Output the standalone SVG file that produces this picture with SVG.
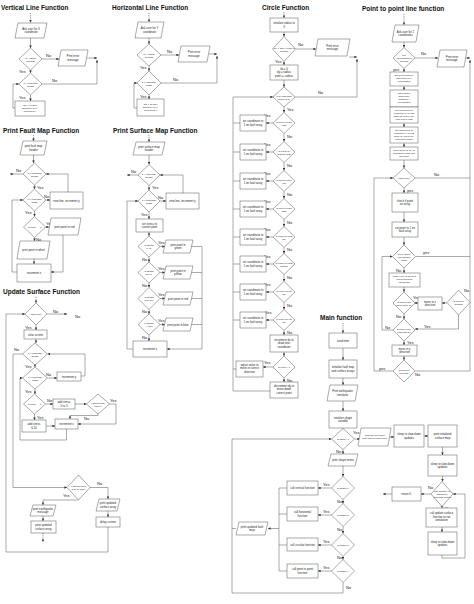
<svg xmlns="http://www.w3.org/2000/svg" width="474" height="604" viewBox="0 0 474 604">
<style>
.n{fill:#fff;stroke:#555;stroke-width:0.5}
.c{fill:none;stroke:#555;stroke-width:0.5}
.s{fill:none;stroke:#444;stroke-width:0.6;stroke-dasharray:1 0.8}
text{font-family:"Liberation Sans",Arial,sans-serif;fill:#222}
.t{font-size:2.8px;text-anchor:middle}
.u{font-size:2.5px;text-anchor:middle}
.l{font-size:4px}
.h{font-size:6.5px;font-weight:bold;fill:#111}
</style>
<defs>
<marker id="a" viewBox="0 0 6 6" refX="6" refY="3" markerWidth="2.6" markerHeight="2.6" markerUnits="userSpaceOnUse" orient="auto"><path d="M0,0L6,3L0,6z" fill="#333"/></marker>
</defs>
<rect width="474" height="604" fill="#fff"/>
<g id="titles">
<text class="h" x="1" y="10">Vertical Line Function</text>
<text class="h" x="112" y="10">Horizontal Line Function</text>
<text class="h" x="262" y="10">Circle Function</text>
<text class="h" x="362" y="11">Point to point line function</text>
<text class="h" x="3" y="133">Print Fault Map Function</text>
<text class="h" x="113" y="133">Print Surface Map Function</text>
<text class="h" x="3" y="294">Update Surface Function</text>
<text class="h" x="320" y="320">Main function</text>
</g>
<g id="connectors" class="c" marker-end="url(#a)">
<!-- vertical -->
<path class="s" d="M30.5,13V22.5"/>
<path d="M30.5,38V48"/>
<path d="M42,59H59"/>
<path d="M87,58H97"/>
<path d="M42,84H97V60"/>
<path d="M30.5,70V73"/>
<path d="M30.5,95V101"/>
<path d="M15,108H13V84H19"/>
<!-- horizontal -->
<path class="s" d="M149,13V22"/>
<path d="M149,38V44"/>
<path d="M161,55H179"/>
<path d="M209,54H217"/>
<path d="M161,83H217V56"/>
<path d="M149,66V71"/>
<path d="M149,95V99"/>
<path d="M137,108H134V83H137"/>
<!-- print fault -->
<path class="s" d="M33.5,135V141"/>
<path d="M33.5,155V163"/>
<path d="M23,174H10"/>
<path d="M34.5,185V189"/>
<path d="M46,200H50"/>
<path d="M68,192V174H46"/>
<path d="M34.5,211V216.5"/>
<path d="M45.5,227H49"/>
<path d="M34.5,237.5V241"/>
<path d="M63,235V272H51"/>
<path d="M34,259V264"/>
<path d="M17,272H12V200H23"/>
<!-- print surface -->
<path class="s" d="M149,135V142"/>
<path d="M149,155V164.5"/>
<path d="M138,175H127"/>
<path d="M149,185.5V190"/>
<path d="M160,201H166"/>
<path d="M183,193V175H160"/>
<path d="M149,212V219"/>
<path d="M149,232V236"/>
<path d="M160,246.5H165"/>
<path d="M160,272.5H165"/>
<path d="M160,298.5H165"/>
<path d="M160,324.5H165"/>
<path d="M149,257V262"/>
<path d="M149,283V287.5"/>
<path d="M149,309.5V314"/>
<path d="M149,335V341"/>
<path d="M191,246.5H202V349H167" />
<path d="M191,272.5H202" marker-end="none"/>
<path d="M191,298.5H202" marker-end="none"/>
<path d="M191,324.5H202" marker-end="none"/>
<path d="M133,349H127V201H138"/>
<!-- update surface -->
<path class="s" d="M36,297V303"/>
<path d="M47,314H67"/>
<path d="M36,325V330"/>
<path d="M36,339V343"/>
<path d="M22.5,354H13V487.5H67"/>
<path d="M35,365V367"/>
<path d="M47.5,378H57"/>
<path d="M81,376H85V354H47.5"/>
<path d="M35,389V394"/>
<path d="M45.5,404H53"/>
<path d="M75,404H86.5"/>
<path d="M98,414V415.5H70V419"/>
<path d="M109.5,404H116V424H78"/>
<path d="M34.5,414V420"/>
<path d="M46,426H55"/>
<path d="M66.5,429V440H20V378H22.5"/>
<path d="M90,487.5H108V499"/>
<path d="M108,511V517"/>
<path d="M108,527V552H6V314H25"/>
<path d="M78.5,500H43V505"/>
<path d="M43,516V521"/>
<path class="s" d="M43,533V542"/>
<!-- circle -->
<path class="s" d="M284,12V18"/>
<path d="M284,32V36.5"/>
<path d="M295.5,49H316"/>
<path d="M349,57H357"/>
<path d="M295,97H357V59"/>
<path d="M284,61.5V65"/>
<path d="M284,80V87"/>
<path d="M284,107V112.5"/>
<path d="M273,123H266"/>
<path d="M273,152H266"/>
<path d="M273,181H266"/>
<path d="M273,209H266"/>
<path d="M273,237H266"/>
<path d="M273,264H266"/>
<path d="M273,292H266"/>
<path d="M273,320H266"/>
<path d="M284,133.5V141.5"/>
<path d="M284,162.5V170.5"/>
<path d="M284,191.5V198.5"/>
<path d="M284,219.5V226.5"/>
<path d="M284,247.5V253.5"/>
<path d="M284,274.5V281.5"/>
<path d="M284,302.5V309.5"/>
<path d="M284,330.5V335"/>
<path d="M284,352V356"/>
<path d="M273,367H263"/>
<path d="M284,378V382"/>
<path d="M240,123H233M240,152H233M240,181H233M240,209H233M240,237H233M240,264H233M240,292H233M240,320H233M236,369H233" marker-end="none"/>
<path d="M270,391H233V97H273"/>
<!-- point to point -->
<path class="s" d="M404,14V25"/>
<path d="M404,42V47.5"/>
<path d="M415,58H438"/>
<path d="M465,58H470"/>
<path d="M404,68.5V72"/>
<path d="M404,86V90"/>
<path d="M404,123V127"/>
<path d="M404,143V147"/>
<path d="M404,160V168"/>
<path d="M415,178H470" marker-end="none"/>
<path d="M404,188V193"/>
<path d="M404,212V222"/>
<path d="M404,237V245"/>
<path d="M415.5,256.5H470" marker-end="none"/>
<path d="M404,268V273"/>
<path d="M404,287V292"/>
<path d="M415,303H418"/>
<path d="M447,303H442"/>
<path d="M458.5,315V329H415"/>
<path d="M404,314V319"/>
<path d="M393,330H382V256.5H392.5"/>
<path d="M404,341V345"/>
<path d="M404,356V360"/>
<path d="M393,371H374V178H393"/>
<path d="M415,371H470V60"/>
<!-- main -->
<path class="s" d="M343,323V333"/>
<path d="M343,348V360"/>
<path d="M343,378V385"/>
<path d="M343,401V411"/>
<path d="M343,428V428.5"/>
<path d="M354.5,439H360"/>
<path d="M388,437H394"/>
<path d="M424,436H428"/>
<path d="M442.5,447V455"/>
<path d="M442.5,476V481.5"/>
<path d="M431,494H421"/>
<path d="M392,494H383"/>
<path d="M442,506.5V508"/>
<path d="M442,527V532"/>
<path d="M442,555V558H465V494H453"/>
<path d="M343,449.5V454"/>
<path d="M343,466V476.5"/>
<path d="M331.5,488H318"/>
<path d="M331.5,515H318"/>
<path d="M331.5,545H318"/>
<path d="M331.5,571H318"/>
<path d="M343,499.5V503.5"/>
<path d="M343,526.5V533.5"/>
<path d="M343,556.5V559.5"/>
<path d="M343,582.5V593H232V439H331.5"/>
<path d="M287,488H279V571H287M287,514H279M287,545H279M236,528.5H232" marker-end="none"/>
<path d="M279,528.5H268"/>
</g>
<g id="labels" class="l">
<text class="l" x="46" y="57">No</text><text class="l" x="19" y="73">Yes</text><text class="l" x="52" y="82">No</text><text class="l" x="19" y="99">Yes</text>
<text class="l" x="167" y="53">No</text><text class="l" x="140" y="69">Yes</text><text class="l" x="173" y="81">No</text><text class="l" x="140" y="98">Yes</text>
<text class="l" x="16" y="172">No</text><text class="l" x="37" y="189">Yes</text><text class="l" x="44" y="198">No</text><text class="l" x="25" y="214">Yes</text><text class="l" x="46" y="225">Yes</text><text class="l" x="36" y="241">No</text>
<text class="l" x="131" y="173">No</text><text class="l" x="152" y="189">Yes</text><text class="l" x="158" y="199">No</text><text class="l" x="141" y="216">Yes</text>
<text class="l" x="158" y="244">Yes</text><text class="l" x="158" y="270">Yes</text><text class="l" x="158" y="296">Yes</text><text class="l" x="158" y="322">Yes</text>
<text class="l" x="142" y="261">No</text><text class="l" x="142" y="287">No</text><text class="l" x="142" y="313">No</text><text class="l" x="142" y="339">No</text>
<text class="l" x="53" y="313">No</text><text class="l" x="75" y="318">No</text><text class="l" x="25" y="329">Yes</text><text class="l" x="14" y="351">No</text><text class="l" x="25" y="368">Yes</text><text class="l" x="46" y="376">No</text><text class="l" x="25" y="393">Yes</text><text class="l" x="47" y="402">No</text><text class="l" x="110" y="402">Yes</text><text class="l" x="84" y="420">No</text><text class="l" x="37" y="419">Yes</text><text class="l" x="97" y="485">No</text><text class="l" x="63" y="497">Yes</text>
<text class="l" x="298" y="46">No</text><text class="l" x="275" y="63">Yes</text><text class="l" x="318" y="94">No</text><text class="l" x="287" y="111">Yes</text>
<text class="l" x="264" y="117">Yes</text><text class="l" x="264" y="146">Yes</text><text class="l" x="264" y="175">Yes</text><text class="l" x="264" y="203">Yes</text><text class="l" x="264" y="231">Yes</text><text class="l" x="264" y="258">Yes</text><text class="l" x="264" y="286">Yes</text><text class="l" x="265" y="314">Yes</text><text class="l" x="264" y="364">Yes</text>
<text class="l" x="287" y="138">No</text><text class="l" x="287" y="167">No</text><text class="l" x="287" y="196">No</text><text class="l" x="287" y="224">No</text><text class="l" x="287" y="251">No</text><text class="l" x="287" y="279">No</text><text class="l" x="287" y="307">No</text><text class="l" x="287" y="334">No</text><text class="l" x="287" y="382">No</text>
<text class="l" x="421" y="55">No</text><text class="l" x="393" y="71">yes</text><text class="l" x="434" y="176">No</text><text class="l" x="407" y="192">yes</text><text class="l" x="423" y="254">yes</text><text class="l" x="396" y="272">No</text><text class="l" x="413" y="299">Yes</text><text class="l" x="464" y="292">No</text><text class="l" x="424" y="328">Yes</text><text class="l" x="396" y="318">No</text><text class="l" x="385" y="329">No</text><text class="l" x="407" y="344">Yes</text><text class="l" x="379" y="370">yes</text><text class="l" x="415" y="376">No</text>
<text class="l" x="353" y="434">Yes</text><text class="l" x="336" y="453">No</text><text class="l" x="428" y="489">No</text><text class="l" x="445" y="510">Yes</text>
<text class="l" x="323" y="486">Yes</text><text class="l" x="323" y="513">Yes</text><text class="l" x="323" y="543">Yes</text><text class="l" x="323" y="569">Yes</text>
<text class="l" x="337" y="503">No</text><text class="l" x="337" y="531">No</text><text class="l" x="337" y="559">No</text><text class="l" x="346" y="589">No</text>
</g>
<!-- Vertical line function -->
<g id="vl_ask"><polygon class="n" points="18,23 47,23 44,38 15,38"/><text class="t" x="31" y="29.9">Ask user for X</text><text class="t" x="31" y="33.3">coordinate</text></g>
<g id="vl_d1"><polygon class="n" points="30.5,48 42,59 30.5,70 19,59"/><text class="u" x="30.5" y="58.5">Is X within</text><text class="u" x="30.5" y="61.5">bounds</text></g>
<g id="vl_err"><polygon class="n" points="61,50 88,50 85,66 58,66"/><text class="t" x="73" y="57.4">Print error</text><text class="t" x="73" y="60.8">message</text></g>
<g id="vl_d2"><polygon class="n" points="30.5,73 42,84 30.5,95 19,84"/><text class="u" x="30.5" y="83.5">if y less than</text><text class="u" x="30.5" y="86.5">height</text></g>
<g id="vl_set"><rect class="n" x="15" y="101" width="30" height="15"/><text class="u" x="30" y="105.8">set y at user</text><text class="u" x="30" y="108.9">defined x to 1,</text><text class="u" x="30" y="112">increment y</text></g>
<!-- Horizontal line function -->
<g id="hl_ask"><polygon class="n" points="138,22 164,22 161,38 135,38"/><text class="t" x="149.5" y="29.4">Ask user for Y</text><text class="t" x="149.5" y="32.8">coordinate</text></g>
<g id="hl_d1"><polygon class="n" points="149,44 161,55 149,66 137,55"/><text class="u" x="149" y="54.5">Is Y within</text><text class="u" x="149" y="57.5">bounds</text></g>
<g id="hl_err"><polygon class="n" points="181,46 210,46 207,62 178,62"/><text class="t" x="194" y="53.4">Print error</text><text class="t" x="194" y="56.8">message</text></g>
<g id="hl_d2"><polygon class="n" points="149,71 161,83 149,95 137,83"/><text class="u" x="149" y="82.5">if x less than</text><text class="u" x="149" y="85.5">width</text></g>
<g id="hl_set"><rect class="n" x="137" y="99" width="27" height="17"/><text class="u" x="150.5" y="104.5">set x at user</text><text class="u" x="150.5" y="107.6">defined y to 1,</text><text class="u" x="150.5" y="110.7">increment x</text></g>
<!-- Print fault map -->
<g id="pf_hdr"><polygon class="n" points="23,141 47,141 44,155 20,155"/><text class="t" x="33.5" y="147.4">print fault map</text><text class="t" x="33.5" y="150.8">header</text></g>
<g id="pf_d1"><polygon class="n" points="34.5,163 46,174 34.5,185 23,174"/><text class="u" x="34.5" y="173.5">if y less than</text><text class="u" x="34.5" y="176.5">height</text></g>
<g id="pf_d2"><polygon class="n" points="34.5,189 46,200 34.5,211 23,200"/><text class="u" x="34.5" y="199.5">if x less than</text><text class="u" x="34.5" y="202.5">width</text></g>
<g id="pf_nl"><rect class="n" x="50" y="192" width="33" height="17"/><text class="t" x="66.5" y="201.6">new line, increment y</text></g>
<g id="pf_d3"><polygon class="n" points="34.5,216.5 45.5,227 34.5,237.5 23.5,227"/><text class="u" x="34.5" y="228">is point == 1</text></g>
<g id="pf_red"><polygon class="n" points="51,218 81,218 78,235 48,235"/><text class="t" x="64.5" y="227.5">print point in red</text></g>
<g id="pf_white"><polygon class="n" points="20,241 50,241 47,259 17,259"/><text class="t" x="33.5" y="251">print point in white</text></g>
<g id="pf_inc"><rect class="n" x="17" y="264" width="34" height="18"/><text class="t" x="34" y="274">increment x</text></g>
<!-- Print surface map -->
<g id="ps_hdr"><polygon class="n" points="136,142 165,142 162,155 133,155"/><text class="t" x="149" y="147.9">print surface map</text><text class="t" x="149" y="151.3">header</text></g>
<g id="ps_d1"><polygon class="n" points="149,164.5 160,175 149,185.5 138,175"/><text class="u" x="149" y="174.5">if y less than</text><text class="u" x="149" y="177.5">height</text></g>
<g id="ps_d2"><polygon class="n" points="149,190 160,201 149,212 138,201"/><text class="u" x="149" y="200.5">if x less than</text><text class="u" x="149" y="203.5">width</text></g>
<g id="ps_nl"><rect class="n" x="166" y="193" width="33" height="16"/><text class="t" x="182.5" y="202">new line, increment y</text></g>
<g id="ps_set"><rect class="n" x="136" y="219" width="27" height="13"/><text class="t" x="149.5" y="225">set stress to</text><text class="t" x="149.5" y="228.4">current point</text></g>
<g id="ps_s1"><polygon class="n" points="149,236 160,246.5 149,257 138,246.5"/><text class="u" x="149" y="246">is stress</text><text class="u" x="149" y="249">0-49</text></g>
<g id="ps_green"><polygon class="n" points="166,240 193,240 190,253 163,253"/><text class="t" x="178" y="245.9">print point in</text><text class="t" x="178" y="249.3">green</text></g>
<g id="ps_s2"><polygon class="n" points="149,262 160,272.5 149,283 138,272.5"/><text class="u" x="149" y="272">is stress</text><text class="u" x="149" y="275">50-99</text></g>
<g id="ps_yellow"><polygon class="n" points="166,266 193,266 190,279 163,279"/><text class="t" x="178" y="271.9">print point in</text><text class="t" x="178" y="275.3">yellow</text></g>
<g id="ps_s3"><polygon class="n" points="149,287.5 160,298.5 149,309.5 138,298.5"/><text class="u" x="149" y="298">is stress</text><text class="u" x="149" y="301">100-199</text></g>
<g id="ps_red"><polygon class="n" points="166,292 193,292 190,305 163,305"/><text class="t" x="178" y="299.6">print point in red</text></g>
<g id="ps_s4"><polygon class="n" points="149,314 160,324.5 149,335 138,324.5"/><text class="u" x="149" y="324">is stress</text><text class="u" x="149" y="327">&gt;=200</text></g>
<g id="ps_blue"><polygon class="n" points="166,318 193,318 190,331 163,331"/><text class="t" x="178" y="325.6">print point in blue</text></g>
<g id="ps_inc"><rect class="n" x="133" y="341" width="34" height="16"/><text class="t" x="150" y="350">increment x</text></g>
<!-- Update surface -->
<g id="us_while"><polygon class="n" points="36,303 47,314 36,325 25,314"/><text class="u" x="36" y="315">while true</text></g>
<g id="us_clear"><rect class="n" x="24" y="330" width="23" height="9"/><text class="t" x="35.5" y="335.5">clear screen</text></g>
<g id="us_d1"><polygon class="n" points="35,343 47.5,354 35,365 22.5,354"/><text class="u" x="35" y="353.5">if y less than</text><text class="u" x="35" y="356.5">height</text></g>
<g id="us_d2"><polygon class="n" points="35,367 47.5,378 35,389 22.5,378"/><text class="u" x="35" y="377.5">if x less than</text><text class="u" x="35" y="380.5">width</text></g>
<g id="us_incy"><rect class="n" x="57" y="372" width="24" height="9"/><text class="t" x="69" y="377.5">increment y</text></g>
<g id="us_d3"><polygon class="n" points="34.5,394 45.5,404 34.5,414 23.5,404"/><text class="u" x="34.5" y="405">is point == 1</text></g>
<g id="us_add03"><rect class="n" x="53" y="399" width="22" height="10"/><text class="t" x="64" y="403.4">add stress</text><text class="t" x="64" y="406.8">0 to 3</text></g>
<g id="us_d4"><polygon class="n" points="98,394 109.5,404 98,414 86.5,404"/><text class="u" x="98" y="403.5">if stress less</text><text class="u" x="98" y="406.5">than 0</text></g>
<g id="us_add010"><rect class="n" x="22" y="420" width="24" height="12"/><text class="t" x="34" y="425.4">add stress</text><text class="t" x="34" y="428.8">0-10</text></g>
<g id="us_incx"><rect class="n" x="55" y="419" width="23" height="10"/><text class="t" x="66.5" y="425">increment x</text></g>
<g id="us_d5"><polygon class="n" points="78.5,475 90,487.5 78.5,500 67,487.5"/><text class="u" x="78.5" y="487">if stress point</text><text class="u" x="78.5" y="490">100 or more</text></g>
<g id="us_pus"><polygon class="n" points="99,499 120,499 117,511 96,511"/><text class="t" x="108" y="504.4">print updated</text><text class="t" x="108" y="507.8">surface array</text></g>
<g id="us_delay"><rect class="n" x="96" y="517" width="24" height="10"/><text class="t" x="108" y="523">delay screen</text></g>
<g id="us_peq"><polygon class="n" points="33,505 56,505 53,516 30,516"/><text class="t" x="43" y="509.9">print earthquake</text><text class="t" x="43" y="513.3">message</text></g>
<g id="us_pus2"><rect class="n" x="31" y="521" width="25" height="12"/><text class="t" x="43.5" y="526.4">print updated</text><text class="t" x="43.5" y="529.8">surface array</text></g>
<!-- Circle function -->
<g id="cf_init"><rect class="n" x="270" y="18" width="28" height="14"/><text class="t" x="284" y="24.4">initialize radius to</text><text class="t" x="284" y="27.8">3</text></g>
<g id="cf_d1"><polygon class="n" points="284,36.5 295.5,49 284,61.5 272.5,49"/><text class="u" x="284" y="48.5">are x and y point in</text><text class="u" x="284" y="51.5">bounds</text></g>
<g id="cf_err"><polygon class="n" points="318,39 350,39 347,56 315,56"/><text class="t" x="332.5" y="46.9">Print error</text><text class="t" x="332.5" y="50.3">message</text></g>
<g id="cf_init2"><rect class="n" x="270" y="65" width="28" height="15"/><text class="t" x="284" y="69.8">dx = 0</text><text class="t" x="284" y="73.2">dy = radius</text><text class="t" x="284" y="76.6">point = -radius</text></g>
<g id="cf_d2"><polygon class="n" points="284,87 295,97 284,107 273,97"/><text class="u" x="284" y="96.5">if dx less than</text><text class="u" x="284" y="99.5">equal to dy</text></g>
<g id="cf_p1"><polygon class="n" points="284,112.5 295,123 284,133.5 273,123"/><text class="u" x="284" y="122.5">is point on the</text><text class="u" x="284" y="125.5">right</text></g>
<g id="cf_r1"><rect class="n" x="240" y="115" width="26" height="16"/><text class="t" x="253" y="122.4">set coordinate to</text><text class="t" x="253" y="125.8">1 on fault array</text></g>
<g id="cf_p2"><polygon class="n" points="284,141.5 295,152 284,162.5 273,152"/><text class="u" x="284" y="151.5">is point on</text><text class="u" x="284" y="154.5">bottom right</text></g>
<g id="cf_r2"><rect class="n" x="240" y="144" width="26" height="16"/><text class="t" x="253" y="151.4">set coordinate to</text><text class="t" x="253" y="154.8">1 on fault array</text></g>
<g id="cf_p3"><polygon class="n" points="284,170.5 295,181 284,191.5 273,181"/><text class="u" x="284" y="180.5">is point on the</text><text class="u" x="284" y="183.5">left</text></g>
<g id="cf_r3"><rect class="n" x="240" y="173" width="26" height="16"/><text class="t" x="253" y="180.4">set coordinate to</text><text class="t" x="253" y="183.8">1 on fault array</text></g>
<g id="cf_p4"><polygon class="n" points="284,198.5 295,209 284,219.5 273,209"/><text class="u" x="284" y="208.5">is point on the</text><text class="u" x="284" y="211.5">right</text></g>
<g id="cf_r4"><rect class="n" x="240" y="201" width="26" height="16"/><text class="t" x="253" y="208.4">set coordinate to</text><text class="t" x="253" y="211.8">1 on fault array</text></g>
<g id="cf_p5"><polygon class="n" points="284,226.5 295,237 284,247.5 273,237"/><text class="u" x="284" y="236.5">is point on right</text><text class="u" x="284" y="239.5">top</text></g>
<g id="cf_r5"><rect class="n" x="240" y="229" width="26" height="16"/><text class="t" x="253" y="236.4">set coordinate to</text><text class="t" x="253" y="239.8">1 on fault array</text></g>
<g id="cf_p6"><polygon class="n" points="284,253.5 295,264 284,274.5 273,264"/><text class="u" x="284" y="263.5">is point on right</text><text class="u" x="284" y="266.5">bottom</text></g>
<g id="cf_r6"><rect class="n" x="240" y="256" width="26" height="16"/><text class="t" x="253" y="263.4">set coordinate to</text><text class="t" x="253" y="266.8">1 on fault array</text></g>
<g id="cf_p7"><polygon class="n" points="284,281.5 295,292 284,302.5 273,292"/><text class="u" x="284" y="291.5">is point on left</text><text class="u" x="284" y="294.5">top</text></g>
<g id="cf_r7"><rect class="n" x="240" y="284" width="26" height="16"/><text class="t" x="253" y="291.4">set coordinate to</text><text class="t" x="253" y="294.8">1 on fault array</text></g>
<g id="cf_p8"><polygon class="n" points="284,309.5 295,320 284,330.5 273,320"/><text class="u" x="284" y="319.5">is point on left</text><text class="u" x="284" y="322.5">top</text></g>
<g id="cf_r8"><rect class="n" x="240" y="312" width="26" height="16"/><text class="t" x="253" y="319.4">set coordinate to</text><text class="t" x="253" y="322.8">1 on fault array</text></g>
<g id="cf_inc"><rect class="n" x="270" y="335" width="28" height="17"/><text class="t" x="284" y="341">increment dx to</text><text class="t" x="284" y="344.4">draw next</text><text class="t" x="284" y="347.8">coordinate</text></g>
<g id="cf_d3"><polygon class="n" points="284,356 295,367 284,378 273,367"/><text class="u" x="284" y="368">is point &lt; 0</text></g>
<g id="cf_adj"><rect class="n" x="236" y="361" width="27" height="16"/><text class="t" x="249.5" y="365.8">adjust value to</text><text class="t" x="249.5" y="369.2">move in correct</text><text class="t" x="249.5" y="372.6">direction</text></g>
<g id="cf_dec"><rect class="n" x="270" y="382" width="28" height="16"/><text class="t" x="284" y="386.8">decrement dy to</text><text class="t" x="284" y="390.2">move down</text><text class="t" x="284" y="393.6">correct point</text></g>
<!-- Point to point -->
<g id="pp_ask"><polygon class="n" points="395,25 419,25 416,42 392,42"/><text class="t" x="405.5" y="32.9">Ask user for 2</text><text class="t" x="405.5" y="36.3">coordinates</text></g>
<g id="pp_d1"><polygon class="n" points="404,47.5 415,58 404,68.5 393,58"/><text class="u" x="404" y="56">are</text><text class="u" x="404" y="59">coordinates in</text><text class="u" x="404" y="62">bounds</text></g>
<g id="pp_err"><polygon class="n" points="440,50 467,50 464,67 437,67"/><text class="t" x="452" y="57.9">Print error</text><text class="t" x="452" y="61.3">message</text></g>
<g id="pp_r1"><rect class="n" x="390" y="72" width="28" height="14"/><text class="u" x="404" y="76.2">set dx to positive</text><text class="u" x="404" y="79.2">difference in x</text><text class="u" x="404" y="82.2">coordinates</text></g>
<g id="pp_r2"><rect class="n" x="390" y="90" width="28" height="17"/><text class="u" x="404" y="94">find positive</text><text class="u" x="404" y="97">difference</text><text class="u" x="404" y="100">between y</text><text class="u" x="404" y="103">coordinates</text></g>
<g id="pp_r3"><rect class="n" x="390" y="107" width="28" height="16"/><text class="u" x="404" y="110.8">set increment to</text><text class="u" x="404" y="113.8">condition if x1 less</text><text class="u" x="404" y="116.8">than x2: move left,</text><text class="u" x="404" y="119.8">else move right</text></g>
<g id="pp_r4"><rect class="n" x="390" y="127" width="28" height="16"/><text class="u" x="404" y="130.8">set increment to</text><text class="u" x="404" y="133.8">condition if y1 less</text><text class="u" x="404" y="136.8">than y2: move up,</text><text class="u" x="404" y="139.8">else move down</text></g>
<g id="pp_r5"><rect class="n" x="390" y="147" width="28" height="13"/><text class="u" x="404" y="150.8">error set to dx-dy to</text><text class="u" x="404" y="153.8">determine each plot</text><text class="u" x="404" y="156.8">direction</text></g>
<g id="pp_while"><polygon class="n" points="404,168 415,178 404,188 393,178"/><text class="u" x="404" y="179">while true</text></g>
<g id="pp_check"><rect class="n" x="392" y="193" width="26" height="19"/><text class="t" x="405" y="201.9">check if point</text><text class="t" x="405" y="205.3">on array</text></g>
<g id="pp_set"><rect class="n" x="392" y="222" width="26" height="15"/><text class="t" x="405" y="228.9">set point to 1 on</text><text class="t" x="405" y="232.3">fault array</text></g>
<g id="pp_eq"><polygon class="n" points="404,245 415.5,256.5 404,268 392.5,256.5"/><text class="u" x="404" y="254.5">are original</text><text class="u" x="404" y="257.5">coordinates</text><text class="u" x="404" y="260.5">equal</text></g>
<g id="pp_temp"><rect class="n" x="389" y="273" width="31" height="14"/><text class="u" x="404.5" y="277.2">temp error is set to 2</text><text class="u" x="404.5" y="280.2">times decision</text><text class="u" x="404.5" y="283.2">parameter</text></g>
<g id="pp_g"><polygon class="n" points="404,292 415,303 404,314 393,303"/><text class="u" x="404" y="302.5">is temp error</text><text class="u" x="404" y="305.5">more than -dy</text></g>
<g id="pp_mx"><rect class="n" x="418" y="297" width="24" height="13"/><text class="t" x="430" y="302.9">move in x</text><text class="t" x="430" y="306.3">direction</text></g>
<g id="pp_b1"><polygon class="n" points="458.5,290 470,302.5 458.5,315 447,302.5"/><text class="u" x="458.5" y="302">is point in</text><text class="u" x="458.5" y="305">bounds</text></g>
<g id="pp_l"><polygon class="n" points="404,319 415,330 404,341 393,330"/><text class="u" x="404" y="329.5">is temp error</text><text class="u" x="404" y="332.5">less than dx</text></g>
<g id="pp_my"><rect class="n" x="392" y="345" width="25" height="11"/><text class="t" x="404.5" y="349.9">move in y</text><text class="t" x="404.5" y="353.3">direction</text></g>
<g id="pp_b2"><polygon class="n" points="404,360 415,371 404,382 393,371"/><text class="u" x="404" y="370.5">is point in</text><text class="u" x="404" y="373.5">bounds</text></g>
<!-- Main -->
<g id="mf_seed"><rect class="n" x="329" y="333" width="28" height="15"/><text class="t" x="343" y="341.6">seed time</text></g>
<g id="mf_init"><rect class="n" x="329" y="360" width="28" height="18"/><text class="t" x="343" y="368.4">initialize fault map</text><text class="t" x="343" y="371.8">and surface arrays</text></g>
<g id="mf_print"><polygon class="n" points="330,385 358,385 355,401 327,401"/><text class="t" x="342.5" y="392.4">Print earthquake</text><text class="t" x="342.5" y="395.8">simulator</text></g>
<g id="mf_shape"><rect class="n" x="329" y="411" width="28" height="17"/><text class="t" x="343" y="418.9">initialize shape</text><text class="t" x="343" y="422.3">variable</text></g>
<g id="mf_dm1"><polygon class="n" points="343,428.5 354.5,439 343,449.5 331.5,439"/><text class="u" x="343" y="440">is shape -1</text></g>
<g id="mf_final"><polygon class="n" points="361,428 391,428 388,446 358,446"/><text class="u" x="374.5" y="436">print the final fault</text><text class="u" x="374.5" y="439">map with all fault lines</text></g>
<g id="mf_sleep1"><rect class="n" x="394" y="425" width="30" height="22"/><text class="t" x="409" y="435.4">sleep to slow down</text><text class="t" x="409" y="438.8">updates</text></g>
<g id="mf_pinit"><rect class="n" x="428" y="425" width="29" height="22"/><text class="t" x="442.5" y="435.4">print initialized</text><text class="t" x="442.5" y="438.8">surface map</text></g>
<g id="mf_sleep2"><rect class="n" x="428" y="455" width="29" height="21"/><text class="t" x="442.5" y="464.9">sleep to slow down</text><text class="t" x="442.5" y="468.3">updates</text></g>
<g id="mf_dq"><polygon class="n" points="442,481.5 453,494 442,506.5 431,494"/><text class="u" x="442" y="492">has number of</text><text class="u" x="442" y="495">shocks to</text><text class="u" x="442" y="498">simulate ended</text></g>
<g id="mf_ret"><rect class="n" x="392" y="487" width="29" height="14"/><text class="t" x="406.5" y="495">return 0;</text></g>
<g id="mf_call"><rect class="n" x="426" y="508" width="31" height="19"/><text class="t" x="441.5" y="514.2">call update surface</text><text class="t" x="441.5" y="517.6">function to run</text><text class="t" x="441.5" y="521">simulation</text></g>
<g id="mf_sleep3"><rect class="n" x="428" y="532" width="29" height="23"/><text class="t" x="442.5" y="542.9">sleep to slow down</text><text class="t" x="442.5" y="546.3">updates</text></g>
<g id="mf_menu"><polygon class="n" points="331,454 358,454 355,466 328,466"/><text class="t" x="343" y="461">print shape menu</text></g>
<g id="mf_s1"><polygon class="n" points="343,476.5 354.5,488 343,499.5 331.5,488"/><text class="u" x="343" y="489">is shape 1</text></g>
<g id="mf_s2"><polygon class="n" points="343,503.5 354.5,515 343,526.5 331.5,515"/><text class="u" x="343" y="516">is shape 2</text></g>
<g id="mf_s3"><polygon class="n" points="343,533.5 354.5,545 343,556.5 331.5,545"/><text class="u" x="343" y="546">is shape 3</text></g>
<g id="mf_s4"><polygon class="n" points="343,559.5 354.5,571 343,582.5 331.5,571"/><text class="u" x="343" y="572">is shape 4</text></g>
<g id="mf_cv"><rect class="n" x="287" y="481" width="31" height="14"/><text class="t" x="302.5" y="489">call vertical function</text></g>
<g id="mf_ch"><rect class="n" x="287" y="507" width="31" height="14"/><text class="t" x="302.5" y="513.4">call horizontal</text><text class="t" x="302.5" y="516.8">function</text></g>
<g id="mf_cc"><rect class="n" x="287" y="538" width="31" height="13"/><text class="t" x="302.5" y="545.6">call circular function</text></g>
<g id="mf_cp"><rect class="n" x="287" y="564" width="31" height="14"/><text class="t" x="302.5" y="570.4">call point to point</text><text class="t" x="302.5" y="573.8">function</text></g>
<g id="mf_pufm"><polygon class="n" points="239,522 268,522 265,535 236,535"/><text class="t" x="252" y="527.9">print updated fault</text><text class="t" x="252" y="531.3">map</text></g>
</svg>
